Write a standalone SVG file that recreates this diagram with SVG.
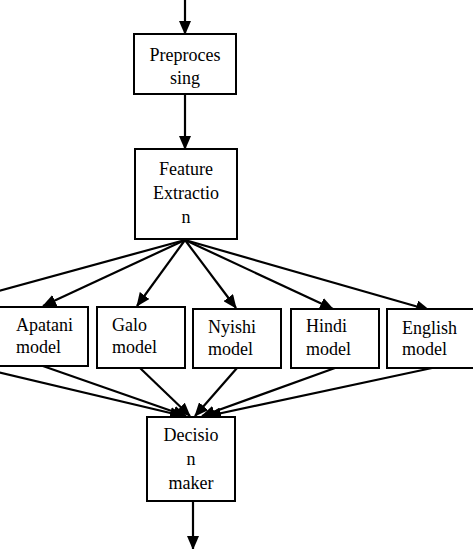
<svg xmlns="http://www.w3.org/2000/svg" width="473" height="549" viewBox="0 0 473 549">
<style>
.box{fill:#fff;stroke:#000;stroke-width:2}
.t{font-family:"Liberation Serif","Times New Roman",serif;font-size:18px;fill:#000}
.c{text-anchor:middle}
.e{stroke:#000;stroke-width:2.2;fill:none}
</style>
<defs>
<marker id="ah" markerUnits="userSpaceOnUse" markerWidth="14" markerHeight="12" refX="13" refY="6" orient="auto">
<path d="M0,0 L14,6 L0,12 Z" fill="#000"/>
</marker>
</defs>
<rect width="473" height="549" fill="#fff"/>
<g id="connectors">
<line class="e" x1="185" y1="0" x2="185" y2="34" marker-end="url(#ah)"/>
<line class="e" x1="185" y1="94" x2="185" y2="149" marker-end="url(#ah)"/>
<line class="e" x1="185" y1="240" x2="-20" y2="296"/>
<line class="e" x1="185" y1="240" x2="43" y2="306" marker-end="url(#ah)"/>
<line class="e" x1="185" y1="240" x2="137" y2="306" marker-end="url(#ah)"/>
<line class="e" x1="185" y1="240" x2="236" y2="308" marker-end="url(#ah)"/>
<line class="e" x1="185" y1="240" x2="333" y2="309" marker-end="url(#ah)"/>
<line class="e" x1="185" y1="240" x2="429" y2="310" marker-end="url(#ah)"/>
<line class="e" x1="-20" y1="368" x2="183" y2="416" marker-end="url(#ah)"/>
<line class="e" x1="40" y1="365" x2="186" y2="416" marker-end="url(#ah)"/>
<line class="e" x1="140" y1="368" x2="190" y2="416" marker-end="url(#ah)"/>
<line class="e" x1="237" y1="368" x2="195" y2="416" marker-end="url(#ah)"/>
<line class="e" x1="335" y1="368" x2="202" y2="416" marker-end="url(#ah)"/>
<line class="e" x1="432" y1="368" x2="208" y2="416" marker-end="url(#ah)"/>
<line class="e" x1="193" y1="501" x2="193" y2="549" marker-end="url(#ah)"/>
</g>
<g id="preprocessing">
<rect class="box" x="134" y="34" width="102" height="60"/>
<text class="t c" x="185" y="61">Preproces</text>
<text class="t c" x="185" y="84">sing</text>
</g>
<g id="feature-extraction">
<rect class="box" x="135" y="149" width="102" height="90"/>
<text class="t c" x="186" y="175">Feature</text>
<text class="t c" x="186" y="199">Extractio</text>
<text class="t c" x="186" y="223">n</text>
</g>
<g id="apatani">
<rect class="box" x="-2" y="307" width="90" height="59"/>
<text class="t" x="16" y="331">Apatani</text>
<text class="t" x="16" y="353">model</text>
</g>
<g id="galo">
<rect class="box" x="97" y="307" width="88" height="61"/>
<text class="t" x="112" y="331">Galo</text>
<text class="t" x="112" y="353">model</text>
</g>
<g id="nyishi">
<rect class="box" x="193" y="309" width="88" height="59"/>
<text class="t" x="208" y="333">Nyishi</text>
<text class="t" x="208" y="355">model</text>
</g>
<g id="hindi">
<rect class="box" x="291" y="309" width="88" height="59"/>
<text class="t" x="306" y="332">Hindi</text>
<text class="t" x="306" y="355">model</text>
</g>
<g id="english">
<rect class="box" x="387" y="309" width="90" height="59"/>
<text class="t" x="402" y="334">English</text>
<text class="t" x="402" y="355">model</text>
</g>
<g id="decision-maker">
<rect class="box" x="147" y="417" width="88" height="84"/>
<text class="t c" x="191" y="441">Decisio</text>
<text class="t c" x="191" y="465">n</text>
<text class="t c" x="191" y="489">maker</text>
</g>
</svg>
